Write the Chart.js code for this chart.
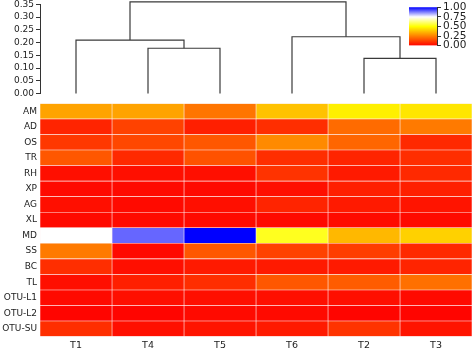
<!DOCTYPE html>
<html>
<head>
<meta charset="utf-8">
<script src="https://cdn.jsdelivr.net/npm/chart.js@4/dist/chart.umd.min.js"></script>
<style>
  html, body { margin: 0; padding: 0; background: #ffffff; }
  #wrap { position: relative; width: 474px; height: 352px; overflow: hidden; background: #fff; }
  .box { position: absolute; }
  canvas { display: block; }
</style>
</head>
<body>
<div id="wrap">
  <div class="box" style="left:0;top:-3px;width:474px;height:104px;"><canvas id="dendro" width="474" height="104"></canvas></div>
  <div class="box" style="left:0;top:95px;width:474px;height:259px;"><canvas id="heat" width="474" height="259"></canvas></div>
  <div class="box" style="left:400px;top:-1px;width:74px;height:55px;"><canvas id="key" width="74" height="55"></canvas></div>
</div>
<script>
// ---------------- DATA ----------------
const rowLabels = ['AM','AD','OS','TR','RH','XP','AG','XL','MD','SS','BC','TL','OTU-L1','OTU-L2','OTU-SU'];
const colLabels = ['T1','T4','T5','T6','T2','T3'];

// one value array per column (rows in rowLabels order); null = no value (white)
const T1 = [0.32, 0.07, 0.11, 0.17, 0.03, 0.02, 0.03, 0.02, null, 0.24, 0.09, 0.03, 0.02, 0.01, 0.09];
const T4 = [0.32, 0.13, 0.14, 0.08, 0.03, 0.02, 0.02, 0.02, 0.90, 0.02, 0.03, 0.06, 0.03, 0.01, 0.03];
const T5 = [0.23, 0.06, 0.17, 0.16, 0.03, 0.02, 0.03, 0.02, 1.00, 0.17, 0.05, 0.09, 0.03, 0.02, 0.04];
const T6 = [0.38, 0.09, 0.27, 0.09, 0.10, 0.03, 0.07, 0.02, 0.53, 0.13, 0.05, 0.17, 0.03, 0.02, 0.05];
const T2 = [0.47, 0.21, 0.20, 0.07, 0.05, 0.06, 0.05, 0.02, 0.36, 0.12, 0.05, 0.18, 0.03, 0.01, 0.10];
const T3 = [0.45, 0.24, 0.08, 0.09, 0.08, 0.06, 0.04, 0.02, 0.41, 0.08, 0.07, 0.22, 0.02, 0.01, 0.04];
const colValues = [T1, T4, T5, T6, T2, T3];

// dendrogram merges: [left child, right child, height]; leaves are column indexes, nodes are 'm0','m1',...
const merges = [
  [1, 2, 0.178],        // m0: T4 + T5
  [0, 'm0', 0.210],     // m1: T1 + m0
  [4, 5, 0.138],        // m2: T2 + T3
  [3, 'm2', 0.223],     // m3: T6 + m2
  ['m1', 'm3', 0.360]   // m4: root
];

const dendroTicks = [0, 0.05, 0.10, 0.15, 0.20, 0.25, 0.30, 0.35];
const keyTicks = [0, 0.25, 0.5, 0.75, 1];

// colour scale stops: value -> rgb
const colourStops = [
  [0.00, [255, 0, 0]],
  [0.50, [255, 255, 0]],
  [0.75, [255, 255, 255]],
  [1.00, [0, 0, 255]]
];

// ---------------- HELPERS ----------------
function colourFor(v) {
  if (v === null || v === undefined) return '#ffffff';
  v = Math.max(0, Math.min(1, v));
  for (let i = 1; i < colourStops.length; i++) {
    const [v1, c1] = colourStops[i];
    const [v0, c0] = colourStops[i - 1];
    if (v <= v1) {
      const t = (v - v0) / (v1 - v0);
      const c = c0.map((a, k) => Math.round(a + (c1[k] - a) * t));
      return `rgb(${c[0]},${c[1]},${c[2]})`;
    }
  }
  const c = colourStops[colourStops.length - 1][1];
  return `rgb(${c[0]},${c[1]},${c[2]})`;
}

const FONT = "'DejaVu Sans', 'Liberation Sans', Arial, sans-serif";
const TEXT = '#222222';
Chart.defaults.font.family = FONT;
Chart.defaults.color = TEXT;

// ---------------- DENDROGRAM ----------------
const nodes = {};
function nodePos(ref) {
  if (typeof ref === 'number') return { x: ref + 0.5, h: 0 };
  return nodes[ref];
}
const dendroSets = merges.map((m, i) => {
  const L = nodePos(m[0]), R = nodePos(m[1]), h = m[2];
  nodes['m' + i] = { x: (L.x + R.x) / 2, h: h };
  return {
    type: 'line',
    data: [{ x: L.x, y: L.h }, { x: L.x, y: h }, { x: R.x, y: h }, { x: R.x, y: R.h }],
    borderColor: '#3a3a3a',
    borderWidth: 1.2,
    pointRadius: 0,
    tension: 0,
    fill: false,
    clip: false
  };
});

new Chart(document.getElementById('dendro'), {
  type: 'line',
  data: { datasets: dendroSets },
  options: {
    responsive: false,
    animation: false,
    devicePixelRatio: 1,
    layout: { padding: { top: 0, right: 2, bottom: 0, left: 0 } },
    plugins: { legend: { display: false }, tooltip: { enabled: false } },
    scales: {
      x: { type: 'linear', min: 0, max: colLabels.length, display: false },
      y: {
        type: 'linear', min: 0, max: 0.35,
        afterFit: s => { s.width = 40; },
        afterBuildTicks: s => { s.ticks = dendroTicks.map(v => ({ value: v })); },
        ticks: { font: { size: 9 }, color: TEXT, padding: 2, autoSkip: false, callback: v => Number(v).toFixed(2) },
        grid: { drawOnChartArea: false, drawTicks: true, tickLength: 4, color: '#333' },
        border: { display: true, color: '#333', width: 1 }
      }
    }
  }
});

// ---------------- HEATMAP ----------------
const heatSets = colLabels.map((name, c) => ({
  label: name,
  data: rowLabels.map(() => [c, c + 1]),
  backgroundColor: rowLabels.map((_, r) => colourFor(colValues[c][r])),
  borderColor: 'rgba(255,240,240,0.95)',
  borderWidth: 0.6,
  borderSkipped: false,
  barPercentage: 1,
  categoryPercentage: 1,
  grouped: false
}));

new Chart(document.getElementById('heat'), {
  type: 'bar',
  data: { labels: rowLabels, datasets: heatSets },
  options: {
    indexAxis: 'y',
    responsive: false,
    animation: false,
    devicePixelRatio: 1,
    layout: { padding: { top: 3, right: 2, bottom: 0, left: 0 } },
    plugins: { legend: { display: false }, tooltip: { enabled: false } },
    scales: {
      x: { type: 'linear', min: 0, max: colLabels.length, display: false },
      x2: {
        type: 'category', labels: colLabels, position: 'bottom', offset: true,
        grid: { display: false, drawTicks: false }, border: { display: false },
        ticks: { font: { size: 9.5 }, color: TEXT, padding: 3 }
      },
      y: {
        type: 'category',
        afterFit: s => { s.width = 40; },
        grid: { display: false, drawTicks: false }, border: { display: false },
        ticks: { font: { size: 9 }, color: TEXT, padding: 3, autoSkip: false }
      }
    }
  }
});

// ---------------- COLOUR KEY ----------------
new Chart(document.getElementById('key'), {
  type: 'bar',
  data: {
    labels: [''],
    datasets: [{
      data: [[0, 1]],
      backgroundColor: ctx => {
        const a = ctx.chart.chartArea;
        if (!a) return '#ff0000';
        const g = ctx.chart.ctx.createLinearGradient(0, a.bottom, 0, a.top);
        colourStops.forEach(([v, c]) => g.addColorStop(v, `rgb(${c[0]},${c[1]},${c[2]})`));
        return g;
      },
      borderWidth: 0,
      barPercentage: 1,
      categoryPercentage: 1
    }]
  },
  options: {
    responsive: false,
    animation: false,
    devicePixelRatio: 1,
    layout: { padding: { top: 3, right: 0, bottom: 3, left: 9 } },
    plugins: { legend: { display: false }, tooltip: { enabled: false } },
    scales: {
      x: { display: false },
      y: {
        type: 'linear', min: 0, max: 1, position: 'right',
        afterFit: s => { s.width = 37; },
        afterBuildTicks: s => { s.ticks = keyTicks.map(v => ({ value: v })); },
        ticks: { font: { size: 10.5 }, color: TEXT, padding: 2, autoSkip: false, callback: v => Number(v).toFixed(2) },
        grid: { drawOnChartArea: false, drawTicks: true, tickLength: 4, color: '#333' },
        border: { display: true, color: '#333', width: 1 }
      }
    }
  }
});
</script>
</body>
</html>
